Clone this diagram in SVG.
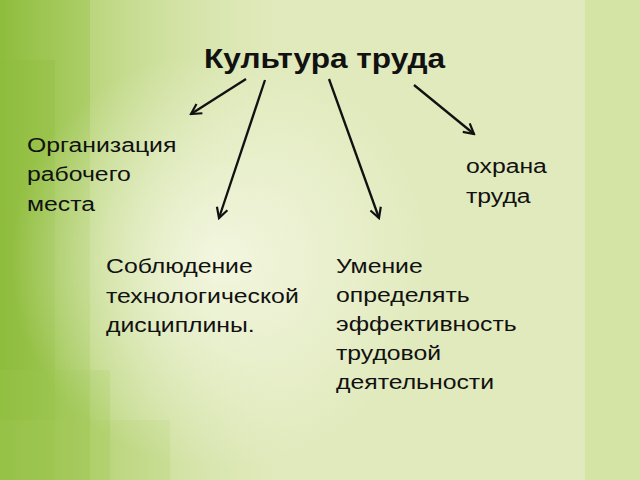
<svg xmlns="http://www.w3.org/2000/svg" width="640" height="480" viewBox="0 0 640 480">
<defs>
<linearGradient id="lg" x1="0" y1="0" x2="1" y2="0">
<stop offset="0" stop-color="#8dbd3c" stop-opacity="1"/>
<stop offset="0.3" stop-color="#a8cc5e" stop-opacity="0.65"/>
<stop offset="1" stop-color="#e2ebbf" stop-opacity="0"/>
</linearGradient>
<radialGradient id="hl" cx="220" cy="260" r="210" gradientUnits="userSpaceOnUse">
<stop offset="0" stop-color="#f4f7e2" stop-opacity="0.95"/>
<stop offset="1" stop-color="#f4f7e2" stop-opacity="0"/>
</radialGradient>
<marker id="ah" viewBox="0 0 14 14" refX="12" refY="7" markerWidth="14" markerHeight="14" markerUnits="userSpaceOnUse" orient="auto">
<path d="M2,1.5 L12,7 L2,12.5" fill="none" stroke="#111" stroke-width="2.2"/>
</marker>
<style>
.t{font-family:"Liberation Sans",Arial,sans-serif;font-size:21px;fill:#111}
.h{font-family:"Liberation Sans",Arial,sans-serif;font-size:28px;font-weight:bold;fill:#111}
.c{stroke:#111;stroke-width:2.3;fill:none;marker-end:url(#ah)}
</style>
</defs>
<g id="background">
<rect x="0" y="0" width="640" height="480" fill="#e1eabd"/>
<rect x="585" y="0" width="55" height="480" fill="#d4e4a4"/>
<rect x="0" y="0" width="320" height="480" fill="url(#lg)"/>
<rect x="0" y="0" width="90" height="480" fill="#8dbd3c" opacity="0.3"/>
<rect x="0" y="60" width="55" height="420" fill="#8dbd3c" opacity="0.3"/>
<rect x="0" y="370" width="110" height="110" fill="#9cc64e" opacity="0.3"/>
<rect x="0" y="420" width="170" height="60" fill="#a8cc60" opacity="0.2"/>
<rect x="0" y="0" width="640" height="480" fill="url(#hl)"/>
</g>
<g id="title" transform="translate(204,68) scale(1.13,1)"><text class="h" x="0" y="0">Культура труда</text></g>
<g id="connectors">
<line class="c" x1="246" y1="79" x2="191" y2="114"/>
<line class="c" x1="265" y1="80" x2="219" y2="218"/>
<line class="c" x1="329" y1="79" x2="379" y2="218"/>
<line class="c" x1="414" y1="85" x2="474" y2="134"/>
</g>
<g id="n1" transform="translate(27,0) scale(1.18,1)"><text class="t"><tspan x="0" y="152">Организация</tspan><tspan x="0" y="181">рабочего</tspan><tspan x="0" y="211">места</tspan></text></g>
<g id="n2" transform="translate(106,0) scale(1.18,1)"><text class="t"><tspan x="0" y="273">Соблюдение</tspan><tspan x="0" y="303">технологической</tspan><tspan x="0" y="332">дисциплины.</tspan></text></g>
<g id="n3" transform="translate(336,0) scale(1.18,1)"><text class="t"><tspan x="0" y="273">Умение</tspan><tspan x="0" y="302">определять</tspan><tspan x="0" y="331">эффективность</tspan><tspan x="0" y="360">трудовой</tspan><tspan x="0" y="389">деятельности</tspan></text></g>
<g id="n4" transform="translate(466,0) scale(1.18,1)"><text class="t"><tspan x="0" y="173">охрана</tspan><tspan x="0" y="203">труда</tspan></text></g>
</svg>
